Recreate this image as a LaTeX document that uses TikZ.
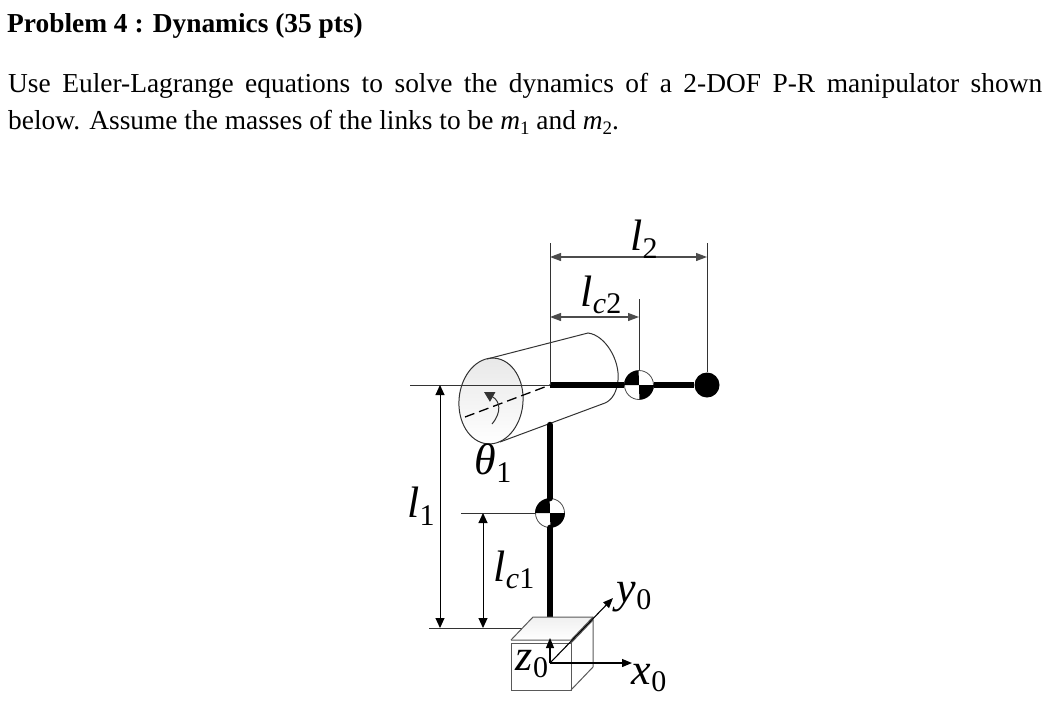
\documentclass[tikz,border=0pt]{standalone}
\usepackage{fontspec}
\setmainfont{Liberation Serif}
\usetikzlibrary{arrows.meta}

\newcommand{\bodysize}{\fontsize{27.4}{37}\selectfont}
\newcommand{\symlabel}[2]{\fontsize{44}{44}\selectfont\textit{#1}\raisebox{-0.17em}{\fontsize{30}{30}\selectfont #2}}
\newcommand{\smallsub}[2]{\textit{#1}\raisebox{-0.2em}{\fontsize{19}{19}\selectfont #2}}

\begin{document}
\begin{tikzpicture}[x=1pt,y=-1pt,
        thinline/.style={line width=1pt,black!80},
        thickline/.style={line width=6.5pt,black},
        dimline/.style={line width=1.2pt,black!70,{Triangle[length=11pt,width=8pt]}-{Triangle[length=11pt,width=8pt]}},
        measure/.style={line width=1pt,black,{Triangle[length=10pt,width=9pt]}-{Triangle[length=10pt,width=9pt]}},
        axisline/.style={line width=1.1pt,black,-{Triangle[length=10pt,width=8pt]}},
        boxline/.style={line width=1pt,black!65},
        com/.style={circle,draw=black!70,line width=0.8pt,fill=white,minimum size=29pt,inner sep=0pt},
        label/.style={anchor=center,inner sep=0pt}]

            \useasboundingbox (0,0) rectangle (1063,705);

            \node (title) at (7,26) [anchor=west,inner sep=0pt] {\fontsize{27.4}{33}\selectfont\bfseries Problem 4 : Dynamics (35 pts)};
            \node (body) at (8,104) [anchor=west,inner sep=0pt,text width=1034pt,align=justify,font=\bodysize] {Use Euler-Lagrange equations to solve the dynamics of a 2-DOF P-R manipulator shown\linebreak below. Assume the masses of the links to be \smallsub{m}{1} and \smallsub{m}{2}.};

            \coordinate (joint) at (550,385);
            \coordinate (basetop) at (550,628);
            \coordinate (linktop) at (550,425);
            \coordinate (origin) at (550,663);

            % cylinder
            \shade[top color=black!9,bottom color=white,rotate around={-5:(491,401)}] (491,401) ellipse (32 and 43);
            \draw[thinline] (487,359) -- (588,333) .. controls (605,335) and (620,360) .. (618,380) .. controls (617,392) and (612,400) .. (605,403) -- (500,442);
            \draw[thinline,rotate around={-5:(491,401)}] (491,401) ellipse (32 and 43);

            % links
            \node (ball) at (707,385) [circle,fill=black,minimum size=25pt,inner sep=0pt] {};
            \node (comtwo) at (639,385) [com] {};
            \node (comone) at (550,513) [com] {};
            \draw[thickline] (joint) -- (comtwo.west);
            \draw[thickline] (comtwo.east) -- (ball);
            \draw[thickline,line cap=round] (linktop) -- (comone.north);
            \draw[thickline,line cap=round] (comone.south) -- (basetop);
            \foreach \c in {comone,comtwo} {
                \fill[black] (\c.center) -- (\c.west) arc (180:90:14.5 and -14.5) -- cycle;
                \fill[black] (\c.center) -- (\c.east) arc (0:-90:14.5 and -14.5) -- cycle;
            }

            % axis and rotation
            \coordinate (axisend) at (465,417);
            \draw[line width=1.3pt,black,dash pattern=on 10pt off 5pt] (axisend) -- (joint);
            \draw[line width=1pt,black!80,-{Triangle[length=10pt,width=11pt]}] (492,424) .. controls (502,412) and (500,401) .. (484,392);

            % dimensions
            \coordinate (refleft) at (410,385);
            \coordinate (lineleft) at (429,628);
            \coordinate (comleft) at (461,513);
            \draw[thinline] (refleft) -- (joint);
            \draw[thinline] (lineleft) -- (basetop);
            \draw[thinline] (comleft) -- (comone.west);
            \draw[thinline] (550,243) -- (joint);
            \draw[thinline] (707,243) -- (ball.north);
            \draw[thinline] (639,299) -- (comtwo.north);
            \draw[dimline] (550,257) -- (707,257);
            \draw[dimline] (550,317) -- (639,317);
            \draw[measure] (440,385) -- (440,628);
            \draw[measure] (483,513) -- (483,628);

            % base
            \shade[top color=black!6,bottom color=white] (511,640) -- (533,617) -- (593,617) -- (571,640) -- cycle;
            \draw[boxline] (511,643) rectangle (571,690);
            \draw[boxline] (511,640) -- (533,617) -- (593,617) -- (593,667) -- (571,690);
            \draw[boxline] (511,640) -- (571,640) -- (593,617);
            \draw[boxline] (571,643) -- (593,620);
            \draw[axisline] (origin) -- (550,638);
            \draw[axisline] (origin) -- (632,663);
            \draw[axisline] (origin) -- (613,598);

            \node (ltwo) at (644,239) [label] {\symlabel{l}{2}};
            \node (lctwo) at (601,295) [label] {\symlabel{l}{\textit{c}2}};
            \node (thetaone) at (493,463) [label] {\symlabel{θ}{1}};
            \node (lone) at (421,506) [label] {\symlabel{l}{1}};
            \node (lcone) at (514,570) [label] {\symlabel{l}{\textit{c}1}};
            \node (yzero) at (634,597) [label] {\symlabel{y}{0}};
            \node (xzero) at (649,678) [label] {\symlabel{x}{0}};
            \node (zzero) at (532,664) [label] {\symlabel{z}{0}};

        \end{tikzpicture}
\end{document}
